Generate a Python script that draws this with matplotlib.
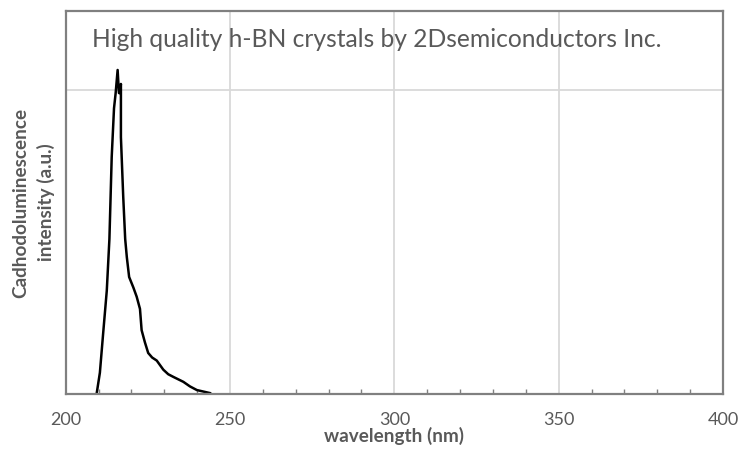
import matplotlib.pyplot as plt
from matplotlib.ticker import MultipleLocator

# spectrum
wavelength = [209.4, 210.4, 211.4, 212.5, 213.3, 214.0, 214.7, 215.2, 215.8, 216.2,
              216.5, 216.8, 216.8, 217.5, 218.1, 218.6, 219.3, 220.6, 221.6, 222.6,
              223.1, 224.1, 225.1, 226.3, 227.7, 229.7, 231.2, 232.8, 235.8, 237.8,
              239.9, 243.9]
intensity = [0.0, 0.07, 0.2, 0.34, 0.51, 0.78, 0.94, 0.99, 1.066, 0.99,
             0.99, 1.02, 0.845, 0.65, 0.51, 0.45, 0.385, 0.35, 0.32, 0.28,
             0.21, 0.17, 0.135, 0.12, 0.11, 0.08, 0.065, 0.056, 0.04, 0.025,
             0.013, 0.003]

x_ticks = [200, 250, 300, 350, 400]

grey_txt = "#595959"
plt.rcParams['font.family'] = ['Lato', 'DejaVu Sans']

fig = plt.figure(figsize=(7.5, 4.49), dpi=100)
ax = fig.add_axes([0.0876, 0.1225, 0.964 - 0.0876, 0.9755 - 0.1225])

ax.plot(wavelength, intensity, color="black", lw=1.8, solid_joinstyle="round")

ax.set_xlim(200, 400)
ax.set_ylim(0, 1.26)
ax.set_xticks(x_ticks)
ax.xaxis.set_minor_locator(MultipleLocator(10))
ax.set_yticks([1.0])
ax.set_yticklabels([])
ax.tick_params(axis="y", length=0)
ax.tick_params(axis="x", which="major", length=0, pad=13, labelsize=13, labelcolor=grey_txt)
ax.tick_params(axis="x", which="minor", direction="in", length=3.5, width=1, color="#808080")
ax.grid(True, which="major", color="#d9d9d9", lw=1.3)
ax.set_axisbelow(True)

for s in ax.spines.values():
    s.set_color("#808080")
    s.set_linewidth(1.6)

ax.text(0.04, 0.955, "High quality h-BN crystals by 2Dsemiconductors Inc.",
        transform=ax.transAxes, ha="left", va="top", fontsize=17.7, color=grey_txt)

ax.set_xlabel("wavelength (nm)", fontsize=13.6, fontweight="bold", color=grey_txt, labelpad=-1)
ax.set_ylabel("Cadhodoluminescence\nintensity (a.u.)", fontsize=13.6, fontweight="bold",
              color=grey_txt, labelpad=4, linespacing=1.55)

fig.savefig("out.png", dpi=100)
